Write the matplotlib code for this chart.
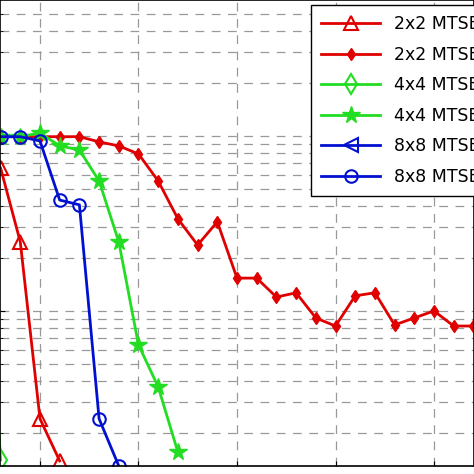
import matplotlib.pyplot as plt

# SNR-like x axis, error rate on log y axis
x_2x2_s = [1, 2, 3, 4, 5, 6]
y_2x2_s = [0.099, 0.099, 0.0656, 0.0248, 0.00242, 0.00139]

x_2x2_i = list(range(3, 28))
y_2x2_i = [0.099, 0.099, 0.099, 0.099, 0.099, 0.0925, 0.0877, 0.0789, 0.0553,
           0.0336, 0.0238, 0.0323, 0.0154, 0.0154, 0.0120, 0.0127, 0.00912,
           0.0082, 0.0122, 0.0127, 0.00832, 0.00912, 0.01, 0.0082, 0.0082]

x_4x4_s = [1, 2, 3]
y_4x4_s = [0.099, 0.099, 0.00141]

x_4x4_i = [3, 4, 5, 6, 7, 8, 9, 10, 11, 12]
y_4x4_i = [0.099, 0.099, 0.104, 0.0877, 0.0832, 0.0553, 0.0248, 0.0064, 0.00368, 0.00156]

x_8x8_s = [0, 1, 2]
y_8x8_s = [0.099, 0.099, 0.0015]

x_8x8_i = [3, 4, 5, 6, 7, 8, 9]
y_8x8_i = [0.099, 0.099, 0.0936, 0.043, 0.0404, 0.00242, 0.0013]

labels = ["2x2 MTSE-SIC", "2x2 MTSE-ISIC", "4x4 MTSE-SIC",
          "4x4 MTSE-ISIC", "8x8 MTSE-SIC", "8x8 MTSE-ISIC"]

red, green, blue = "#e00000", "#22dd22", "#0010d0"

fig = plt.figure(figsize=(4.74, 4.74), dpi=100)
ax = fig.add_axes([0, 8 / 474, 1, 466 / 474])

ax.plot(x_2x2_s, y_2x2_s, color=red, lw=2, marker="^", ms=10, mfc="none", mew=1.5, label=labels[0])
ax.plot(x_2x2_i, y_2x2_i, color=red, lw=2, marker="d", ms=6, mfc=red, label=labels[1])
ax.plot(x_4x4_s, y_4x4_s, color=green, lw=2, marker="d", ms=10, mfc="none", mew=1.5, label=labels[2])
ax.plot(x_4x4_i, y_4x4_i, color=green, lw=2, marker="*", ms=13, mfc=green, label=labels[3])
ax.plot(x_8x8_s, y_8x8_s, color=blue, lw=2, marker="<", ms=10, mfc="none", mew=1.5, label=labels[4])
ax.plot(x_8x8_i, y_8x8_i, color=blue, lw=2, marker="o", ms=9, mfc="none", mew=1.5, label=labels[5])

ax.set_yscale("log")
ax.set_xlim(2.97, 27.03)
ax.set_ylim(0.0013, 0.598)
ax.set_xticks([5, 10, 15, 20, 25])
ax.tick_params(which="both", direction="in", labelleft=False, labelbottom=False)
ax.grid(True, which="both", linestyle=(0, (7, 6)), color="#999999", lw=0.9)
for s in ax.spines.values():
    s.set_linewidth(1.2)

leg = ax.legend(loc="upper left", bbox_to_anchor=(311 / 474, 0.99), fontsize=12.5,
                fancybox=False, edgecolor="black", framealpha=1, handlelength=3.4,
                borderaxespad=0, labelspacing=0.72, borderpad=0.6)
leg.get_frame().set_linewidth(1)

fig.savefig("out.png", dpi=100)
